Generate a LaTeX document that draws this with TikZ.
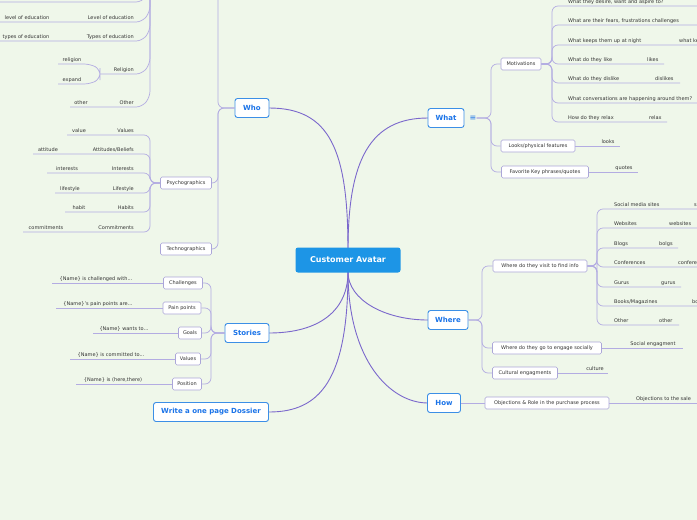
\documentclass[tikz,border=0pt]{standalone}
\usepackage{fontspec}
\setmainfont{DejaVu Sans}
\definecolor{bg}{HTML}{EFF7EA}
\definecolor{mainline}{HTML}{7B68CC}
\definecolor{subline}{HTML}{B3ACE2}
\definecolor{boxline}{HTML}{ABA6D8}
\definecolor{bluetxt}{HTML}{1A73E8}
\definecolor{blueb}{HTML}{3C8FE6}
\definecolor{cfill}{HTML}{1D95E6}
\definecolor{txt}{HTML}{333333}
\begin{document}
\begin{tikzpicture}[x=1pt,y=-1pt,
  lbl/.style={font=\fontsize{5}{6}\selectfont,text=txt,inner sep=0pt},
  sbox/.style={draw=boxline,fill=white,rounded corners=1.5pt,line width=0.6pt,font=\fontsize{5}{6}\selectfont,text=txt,inner sep=2pt,minimum height=12pt},
  mbox/.style={draw=blueb,fill=white,rounded corners=2.5pt,line width=0.9pt,font=\bfseries\fontsize{7}{8}\selectfont,text=bluetxt,minimum height=19pt,inner sep=3pt},
  ml/.style={draw=mainline,line width=0.9pt},
  sl/.style={draw=subline,line width=0.7pt,rounded corners=6pt}]
\fill[bg] (0,0) rectangle (697,520);
\useasboundingbox (0,0) rectangle (697,520);
% main connectors
\coordinate (ct) at (348,250);
\coordinate (cb) at (348,272);
\draw[ml] (ct) .. controls (348,150) and (330,108) .. (269,108);
\draw[ml] (ct) .. controls (348,160) and (370,118) .. (428,118);
\draw[ml] (cb) .. controls (348,310) and (320,333) .. (269,333);
\draw[ml] (cb) .. controls (348,380) and (320,412) .. (269,412);
\draw[ml] (cb) .. controls (348,300) and (385,320) .. (428,320);
\draw[ml] (cb) .. controls (348,360) and (390,403) .. (428,403);
\node[fill=cfill,rounded corners=2.5pt,text=white,font=\bfseries\fontsize{8}{9}\selectfont,minimum width=105pt,minimum height=25pt] (center) at (348,260) {Customer Avatar};
\node[mbox,minimum width=34pt] (who) at (252,108) {Who};
\node[mbox,minimum width=36pt] (what) at (446,118) {What};
\node[mbox,minimum width=40pt] (where) at (448,320) {Where};
\node[mbox,minimum width=33pt] (how) at (444,403) {How};
\node[mbox,minimum width=44pt] (stories) at (247,333) {Stories};
\node[mbox,minimum width=115pt] (dossier) at (211,412) {Write a one page Dossier};
\node[text=bluetxt,font=\fontsize{8}{8}\selectfont,inner sep=0] (icon) at (473,118) {≡};
% ---------------- WHO ----------------
\draw[sl] (who.west) -- (218,108) -- (218,-10);
\node[sbox,minimum width=51pt] (psy) at (186,183) {Psychographics};
\node[sbox,minimum width=51pt] (tech) at (186,249) {Technographics};
\draw[sl] (who.west) -- (218,108) |- (psy.east);
\draw[sl] (who.west) -- (218,108) |- (tech.east);
% demographics items
\draw[sl] (0,2) -- (142,2) -- (150,-10);
\foreach \y/\t/\s/\sx/\l in {22/Level of education/level of education/27/0, 41/Types of education/types of education/26/0, 107/Other/other/81/70}{
  \draw[sl] (\l,\y) -- (142,\y) -- (150,\y-10) -- (150,-10);
  \node[lbl,anchor=base east] at (134,\y-3) {\t};
  \node[lbl,anchor=base] at (\sx,\y-3) {\s};
}
\draw[sl] (100,74) -- (142,74) -- (150,64) -- (150,-10);
\node[lbl,anchor=base east] (rel) at (134,71) {Religion};
\draw[sl] (58,64) -- (90,64) -- (100,69) -- (100,74) -- (100,79) -- (90,84) -- (58,84);
\node[lbl,anchor=base] at (72,61) {religion};
\node[lbl,anchor=base] at (72,81) {expand};
% psychographics items
\foreach \y/\t/\s/\sx/\l in {135/Values/value/79/67, 154/Attitudes\slash Beliefs/attitude/48/33, 173/Interests/interests/67/47, 193/Lifestyle/lifestyle/70/55, 212/Habits/habit/79/65, 232/Commitments/commitments/46/23}{
  \draw[sl] (psy.west) -- (150,183) -- (150,\y) -- (\l,\y);
  \node[lbl,anchor=base east] at (134,\y-3) {\t};
  \node[lbl,anchor=base] at (\sx,\y-3) {\s};
}
% ---------------- STORIES ----------------
\node[sbox,minimum width=39pt] (ch) at (183,283) {Challenges};
\node[sbox,minimum width=38pt] (pp) at (182,308) {Pain points};
\node[sbox,minimum width=23pt] (go) at (190,333) {Goals};
\node[sbox,minimum width=25pt] (va) at (188,359) {Values};
\node[sbox,minimum width=29pt] (po) at (187,384) {Position};
\foreach \n in {ch,pp,go,va,po}{
  \draw[sl] (stories.west) -- (211,333) |- (\n.east);
}
\draw[sl] (ch.west) -- (52,283);  \node[lbl,anchor=base] at (96,280) {\{Name\} is challenged with...};
\draw[sl] (pp.west) -- (56,308);  \node[lbl,anchor=base] at (98,305) {\{Name\}'s pain points are...};
\draw[sl] (go.west) -- (93,333);  \node[lbl,anchor=base] at (124,330) {\{Name\} wants to...};
\draw[sl] (va.west) -- (70,359);  \node[lbl,anchor=base] at (111,356) {\{Name\} is committed to...};
\draw[sl] (po.west) -- (76,384);  \node[lbl,anchor=base] at (113,381) {\{Name\} is (here,there)};
% ---------------- WHAT ----------------
\node[sbox,minimum width=40pt] (mot) at (521,64) {Motivations};
\node[sbox,minimum width=74pt] (looks) at (538,146) {Looks/physical features};
\node[sbox,minimum width=87pt] (fav) at (545,172) {Favorite Key phrases/quotes};
\foreach \n in {mot,looks,fav}{
  \draw[sl] (icon.east) -- (491,118) |- (\n.west);
}
\foreach \y/\t/\s/\sx/\e in {6/{What they desire, want and aspire to?}//0/700, 25/{What are their fears, frustrations challenges}//0/700, 45/What keeps them up at night/what keeps them up at night/679/760, 64/What do they like/likes/647/664, 83/What do they dislike/dislikes/655/680, 103/What conversations are happening around them?//0/760, 122/How do they relax/relax/649/667}{
  \draw[sl] (mot.east) -- (552,64) -- (552,\y) -- (\e,\y);
  \node[lbl,anchor=base west] at (568,\y-3) {\t};
  \node[lbl,anchor=base west] at (\sx,\y-3) {\s};
}
\draw[sl] (looks.east) -- (620,146); \node[lbl,anchor=base] at (608,143) {looks};
\draw[sl] (fav.east) -- (638,172); \node[lbl,anchor=base] at (624,169) {quotes};
% ---------------- WHERE ----------------
\node[sbox,minimum width=94pt] (visit) at (540,266) {Where do they visit to find info};
\node[sbox,minimum width=109pt] (soc) at (547,348) {Where do they go to engage socially};
\node[sbox,minimum width=65pt] (cult) at (525,373) {Cultural engagments};
\foreach \n in {visit,soc,cult}{
  \draw[sl] (where.east) -- (482,320) |- (\n.west);
}
\foreach \y/\t/\s/\sx/\e in {209/Social media sites/social media sites/694/760, 228/Websites/websites/669/760, 248/Blogs/bolgs/659/678, 267/Conferences/conferences/678/760, 287/Gurus/gurus/661/681, 306/Books\slash Magazines/books/692/760, 325/Other/other/659/679}{
  \draw[sl] (visit.east) -- (597,266) -- (597,\y) -- (\e,\y);
  \node[lbl,anchor=base west] at (614,\y-3) {\t};
  \node[lbl,anchor=base west] at (\sx,\y-3) {\s};
}
\draw[sl] (soc.east) -- (683,348); \node[lbl,anchor=base] at (653,345) {Social engagment};
\draw[sl] (cult.east) -- (608,373); \node[lbl,anchor=base] at (595,370) {culture};
% ---------------- HOW ----------------
\node[sbox,minimum width=124pt] (obj) at (547,403) {Objections \& Role in the purchase process};
\draw[sl] (how.east) -- (obj.west);
\draw[sl] (obj.east) -- (760,403); \node[lbl,anchor=base west] at (636,400) {Objections to the sale};
\end{tikzpicture}
\end{document}
